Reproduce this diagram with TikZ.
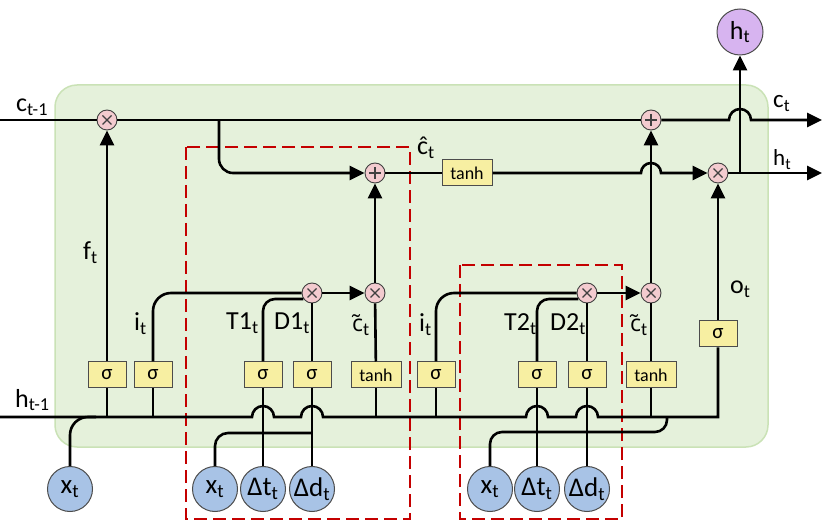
\documentclass[tikz,border=0pt]{standalone}
\usepackage{fontspec}
\setmainfont{Carlito}
\newfontfamily\accfont{Open Sans}
\usetikzlibrary{arrows.meta,calc}
\definecolor{cellfill}{HTML}{E5F1DB}
\definecolor{celldraw}{HTML}{CAE2B6}
\definecolor{opfill}{HTML}{F3CBCF}
\definecolor{boxfill}{HTML}{F7EFA2}
\definecolor{infill}{HTML}{A8C3E6}
\definecolor{outfill}{HTML}{D7B4F0}
\definecolor{dashred}{HTML}{C40000}
\newcommand\tildec{{\accfont\fontsize{23}{23}\selectfont c̃}}
\tikzset{
  wire/.style={line width=2.6pt, black},
  arr/.style={wire, -{Triangle[length=15pt,width=14pt]}},
  op/.style={circle, draw=black!75, line width=0.9pt, fill=opfill, minimum size=20pt, inner sep=0pt},
  mul/.style={op, path picture={\draw[line width=1.1pt]
     ([shift={(-4.5pt,-4.5pt)}]path picture bounding box.center) -- ([shift={(4.5pt,4.5pt)}]path picture bounding box.center)
     ([shift={(-4.5pt,4.5pt)}]path picture bounding box.center) -- ([shift={(4.5pt,-4.5pt)}]path picture bounding box.center);}},
  add/.style={op, path picture={\draw[line width=1.1pt]
     ([shift={(-6pt,0pt)}]path picture bounding box.center) -- ([shift={(6pt,0pt)}]path picture bounding box.center)
     ([shift={(0pt,6pt)}]path picture bounding box.center) -- ([shift={(0pt,-6pt)}]path picture bounding box.center);}},
  gate/.style={draw=black!70, line width=1pt, fill=boxfill, minimum height=26pt, inner sep=0pt},
  sgate/.style={gate, minimum width=38pt, font=\fontsize{21}{21}\selectfont},
  tgate/.style={gate, minimum width=50pt, font=\fontsize{18}{18}\selectfont},
  innode/.style={circle, draw=black!70, line width=1pt, fill=infill, minimum size=45pt, inner sep=0pt, font=\fontsize{27}{27}\selectfont},
  outnode/.style={circle, draw=black!70, line width=1pt, fill=outfill, minimum size=46pt, inner sep=0pt, font=\fontsize{26}{26}\selectfont},
  lab/.style={font=\fontsize{26}{26}\selectfont, inner sep=0pt},
  redbox/.style={draw=dashred, line width=2.8pt, dash pattern=on 13pt off 6pt}
}
\begin{document}
\begin{tikzpicture}[x=1pt,y=-1pt]
\useasboundingbox (0,0) rectangle (825,529);
% cell background
\draw[fill=cellfill, draw=celldraw, line width=1.5pt, rounded corners=22pt] (55,85) rectangle (768,447);
% red dashed boxes
\draw[redbox] (186,147) rectangle (410,519);
\draw[redbox] (460,265) rectangle (622,519);

% operator nodes
\node[mul] (mf) at (107,120) {};
\node[add] (pc) at (375,173) {};
\node[tgate] (tc) at (467,173) {tanh};
\node[mul] (m1) at (312,293) {};
\node[mul] (m2) at (375,293) {};
\node[mul] (m3) at (587,293) {};
\node[mul] (m4) at (651,293) {};
\node[add] (p2) at (651,120) {};
\node[mul] (mo) at (718,173) {};
\node[outnode] (ht) at (740,32) {h\textsubscript{t}};
% gates
\node[sgate] (fg) at (107,375) {σ};
\node[sgate] (ig) at (153,375) {σ};
\node[sgate] (t1g) at (263,375) {σ};
\node[sgate] (d1g) at (312,375) {σ};
\node[tgate] (cg) at (376,375) {tanh};
\node[sgate] (i2g) at (436,375) {σ};
\node[sgate] (t2g) at (537,375) {σ};
\node[sgate] (d2g) at (587,375) {σ};
\node[tgate] (c2g) at (651,375) {tanh};
\node[sgate] (og) at (718,334) {σ};
% inputs
\node[innode] (x0) at (70,489) {x\textsubscript{t}};
\node[innode] (xa) at (215,489) {x\textsubscript{t}};
\node[innode] (dta) at (263,489) {Δt\textsubscript{t}};
\node[innode] (dda) at (312,489) {Δd\textsubscript{t}};
\node[innode] (xb) at (490,489) {x\textsubscript{t}};
\node[innode] (dtb) at (537,489) {Δt\textsubscript{t}};
\node[innode] (ddb) at (587,489) {Δd\textsubscript{t}};

% free ends
\coordinate (cin) at (0,120);
\coordinate (cout) at (822,120);
\coordinate (hin) at (0,417);
\coordinate (hout) at (822,173);
\coordinate (br) at (219,120);
\coordinate (ya) at (0,433);
\coordinate (xbj) at (667,417);

% cell state line
\draw[wire] (cin) -- (mf);
\draw[wire] (mf) -- (p2);
\draw[arr] (p2) -- ($(ht |- p2)+(-11pt,0)$) arc[start angle=180,end angle=0,radius=11pt] -- (cout);
\draw[arr, rounded corners=14pt] (br) |- (pc);
\draw[wire] (pc) -- (tc);
\draw[arr] (tc) -- ($(m4 |- tc)+(-10pt,0)$) arc[start angle=180,end angle=0,radius=10pt] -- (mo);
\draw[arr] (mo) -- (hout);
\draw[arr] (ht |- mo) -- (ht);
\draw[arr] (fg) -- (mf);
\draw[arr] (og) -- (mo);
\draw[arr] (m2) -- (pc);
\draw[arr] (m4) -- (p2);
\draw[arr] (m1) -- (m2);
\draw[arr] (m3) -- (m4);
\draw[wire] (cg) -- (m2);
\draw[wire] (c2g) -- (m4);
\draw[wire] (d1g) -- (m1);
\draw[wire] (d2g) -- (m3);
\draw[wire, rounded corners=18pt] (ig) |- (m1);
\draw[wire, rounded corners=18pt] (i2g) |- (m3);
\draw[wire, rounded corners=12pt] (t1g) |- (m1.215);
\draw[wire, rounded corners=12pt] (t2g) |- (m3.215);

% hidden line
\draw[wire] (hin) -- ($(t1g |- hin)+(-11pt,0)$) arc[start angle=180,end angle=0,radius=11pt]
  -- ($(d1g |- hin)+(-11pt,0)$) arc[start angle=180,end angle=0,radius=11pt]
  -- ($(t2g |- hin)+(-11pt,0)$) arc[start angle=180,end angle=0,radius=11pt]
  -- ($(d2g |- hin)+(-11pt,0)$) arc[start angle=180,end angle=0,radius=11pt]
  -- (og |- hin) -- (og);
\draw[wire] (fg |- hin) -- (fg);
\draw[wire] (ig |- hin) -- (ig);
\draw[wire] (cg |- hin) -- (cg);
\draw[wire] (i2g |- hin) -- (i2g);
\draw[wire] (c2g |- hin) -- (c2g);

% inputs
\draw[wire] (dta) -- (t1g);
\draw[wire] (dda) -- (d1g);
\draw[wire] (dtb) -- (t2g);
\draw[wire] (ddb) -- (d2g);
\draw[wire, rounded corners=18pt] (x0) |- ($(hin)+(96pt,0)$);
\draw[wire, rounded corners=13pt] (xa) |- (dda |- ya);
\draw[wire, rounded corners=12pt] (xb) |- ($(xbj)+(0,-15pt)$) -- (xbj);

% labels
\node[lab, anchor=base west] (lc0) at (16,112) {c\textsubscript{t-1}};
\node[lab, anchor=base west] (lh0) at (15,407) {h\textsubscript{t-1}};
\node[lab, anchor=base west] (lf) at (83,260) {f\textsubscript{t}};
\node[lab, anchor=base west] (li1) at (134,331) {i\textsubscript{t}};
\node[lab, anchor=base west] (lt1) at (226,330) {T1\textsubscript{t}};
\node[lab, anchor=base west] (ld1) at (274,330) {D1\textsubscript{t}};
\node[lab, anchor=base west] (lct1) at (352,332) {\tildec\textsubscript{t}};
\node[lab, anchor=base west] (li2) at (419,332) {i\textsubscript{t}};
\node[lab, anchor=base west] (lt2) at (504,331) {T2\textsubscript{t}};
\node[lab, anchor=base west] (ld2) at (550,331) {D2\textsubscript{t}};
\node[lab, anchor=base west] (lct2) at (630,332) {\tildec\textsubscript{t}};
\node[lab, anchor=base west] (lo) at (730,294) {o\textsubscript{t}};
\node[lab, anchor=base west] (lch) at (417,155) {ĉ\textsubscript{t}};
\node[lab, anchor=base west, font=\fontsize{25}{25}\selectfont] (lc) at (773,108) {c\textsubscript{t}};
\node[lab, anchor=base west, font=\fontsize{23}{23}\selectfont] (lh) at (773,166) {h\textsubscript{t}};
\end{tikzpicture}
\end{document}
